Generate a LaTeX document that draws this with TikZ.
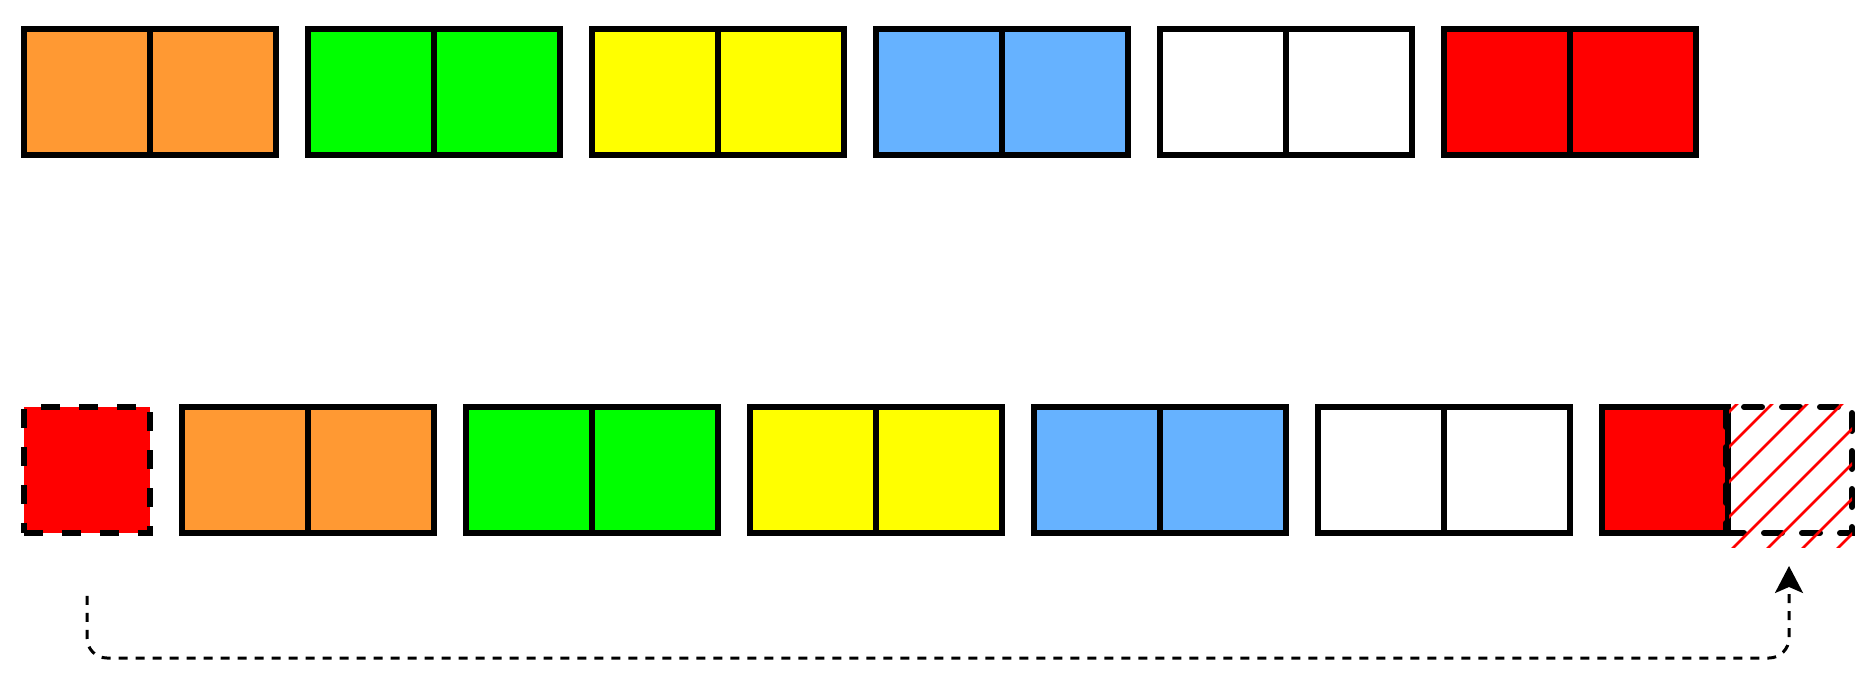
\documentclass[tikz,border=0pt]{standalone}
\usetikzlibrary{arrows.meta}
\definecolor{corange}{RGB}{255,153,51}
\definecolor{cgreen}{RGB}{0,255,0}
\definecolor{cyellow}{RGB}{255,255,0}
\definecolor{cblue}{RGB}{102,178,255}
\definecolor{cred}{RGB}{255,0,0}
\begin{document}
\begin{tikzpicture}[x=0.02cm,y=-0.02cm,
  cell/.style={draw=black, line width=0.12cm, minimum size=2.52cm, inner sep=0pt, outer sep=0pt},
  dashcell/.style={cell, dash pattern=on 0.38cm off 0.38cm},
  holecell/.style={cell, line cap=round, dash pattern=on 0.36cm off 0.40cm},
  hatch/.style={draw=cred, line width=0.055cm},
  link/.style={draw=black, line width=0.06cm, dash pattern=on 0.18cm off 0.16cm,
    rounded corners=0.4cm, -{Stealth[length=0.54cm, width=0.56cm, inset=0.12cm]}}
]
\useasboundingbox (0,0) rectangle (1870,680);
% top row
\foreach \col [count=\i from 0] in {corange,cgreen,cyellow,cblue,white,cred} {
  \node[cell, fill=\col] (t\i a) at ({24+284*\i+63},92) {};
  \node[cell, fill=\col] (t\i b) at ({24+284*\i+189},92) {};
}
% bottom row
\node[dashcell, fill=cred] (m) at (87,470) {};
\foreach \col [count=\i from 0] in {corange,cgreen,cyellow,cblue,white} {
  \node[cell, fill=\col] (b\i a) at ({182+284*\i+63},470) {};
  \node[cell, fill=\col] (b\i b) at ({182+284*\i+189},470) {};
}
\node[cell, fill=cred] (r) at (1665,470) {};
\node[holecell] (h) at (1789,470) {};
\begin{scope}
  \clip (1729,404) rectangle (1852,547);
  \foreach \k in {0,...,9}
    \draw[hatch] ({2386-35*\k-560},560) -- ({2386-35*\k-380},380);
\end{scope}
% connector
\coordinate (s) at ([yshift=-1.26cm]m.south);
\coordinate (e) at ([yshift=-0.66cm]h.south);
\coordinate (lvl) at (0,658);
\draw[link] (s) -- (s |- lvl) -- (e |- lvl) -- (e);
\end{tikzpicture}
\end{document}
